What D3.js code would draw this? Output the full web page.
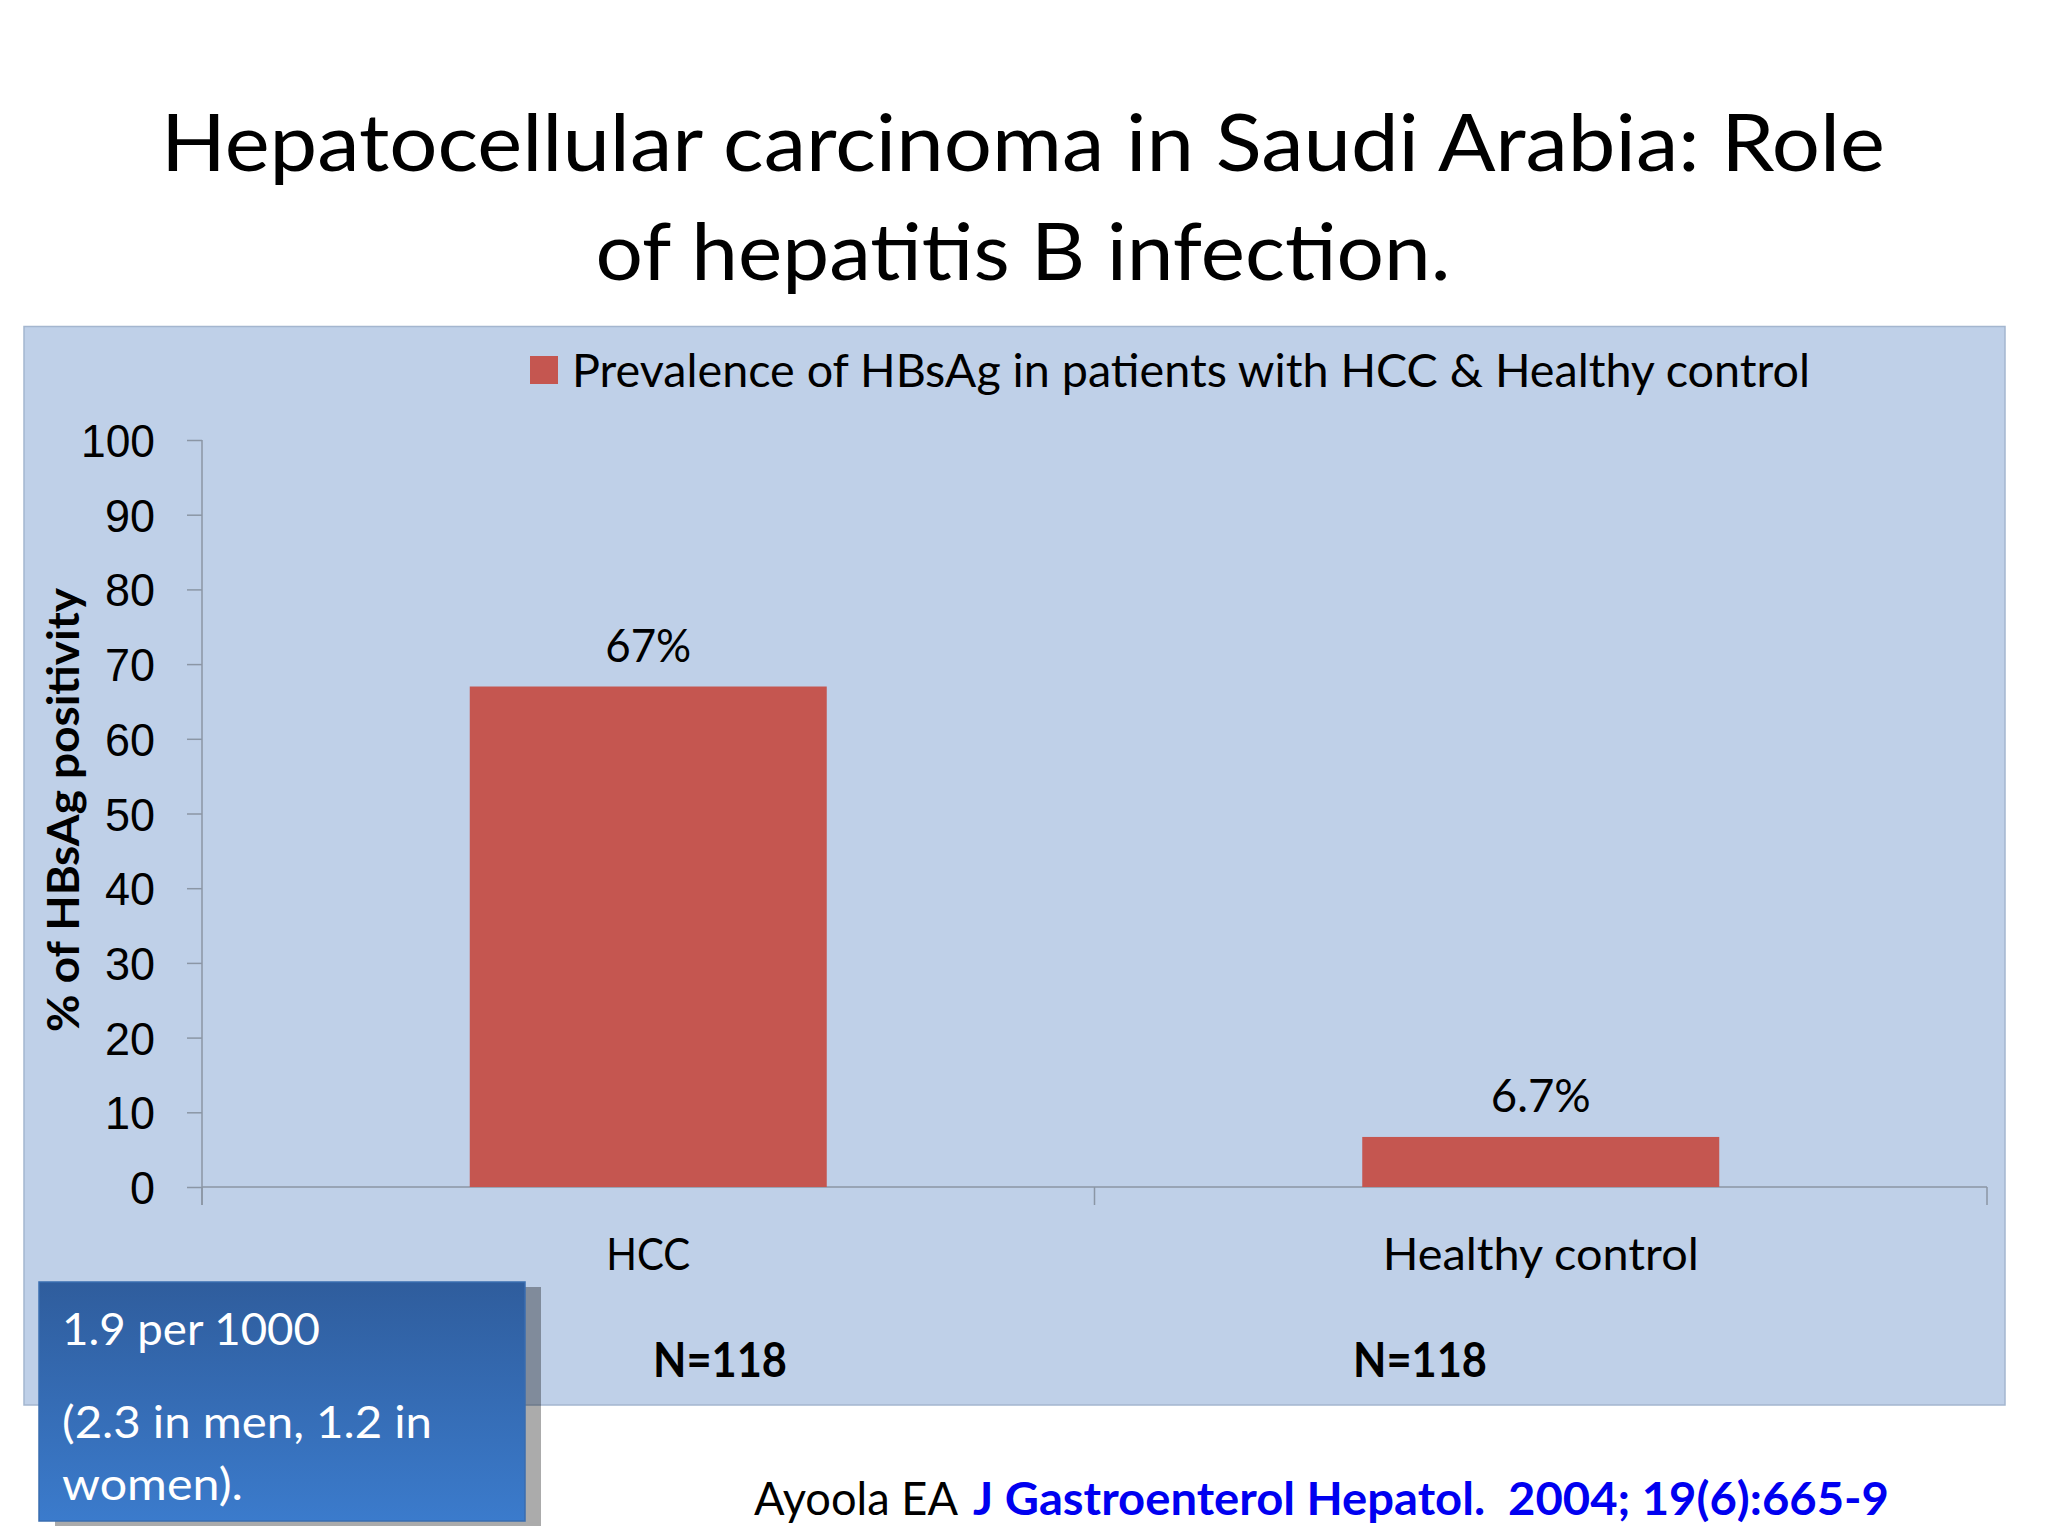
<!DOCTYPE html>
<html>
<head>
<meta charset="utf-8">
<script src="https://cdn.jsdelivr.net/npm/d3@7"></script>
<style>
  body { margin: 0; background: #ffffff; }
  svg { display: block; font-family: Lato, "Open Sans", sans-serif; }
</style>
</head>
<body>
<div id="chart"></div>
<script>
// --- Data ---
const categories = ["HCC", "Healthy control"];
const prevalence = [67, 6.7];
const valueLabels = ["67%", "6.7%"];
const sampleSizes = ["N=118", "N=118"];
const yTicks = [0, 10, 20, 30, 40, 50, 60, 70, 80, 90, 100];
const titleLines = ["Hepatocellular carcinoma in Saudi Arabia: Role", "of hepatitis B infection."];
const legendLabel = "Prevalence of HBsAg in patients with HCC & Healthy control";
const yAxisTitle = "% of HBsAg positivity";
const noteLines = ["1.9 per 1000", "(2.3 in men, 1.2 in", "women)."];
const citeAuthor = "Ayoola EA";
const citeJournal = "J Gastroenterol Hepatol.  2004; 19(6):665-9";

// --- Colors ---
const colors = {
  panel: "#bfd0e8",
  panelStroke: "#a4b6cf",
  bar: "#c55650",
  axis: "#8b96a5",
  text: "#000000",
  link: "#0000f0"
};

const W = 2048, H = 1536;

const svg = d3.select("#chart")
  .append("svg")
  .attr("width", W)
  .attr("height", H)
  .attr("viewBox", `0 0 ${W} ${H}`);

// helper: squeeze text to the width seen in the slide (font is narrower there)
function fitText(sel, width) {
  sel.attr("textLength", width).attr("lengthAdjust", "spacingAndGlyphs");
  return sel;
}

// --- Title ---
const titleBase = [171, 280];
const titleWidth = [1724, 855];
titleLines.forEach((t, i) => {
  fitText(svg.append("text")
    .attr("x", 1023)
    .attr("y", titleBase[i])
    .attr("text-anchor", "middle")
    .style("font-size", "80px")
    .attr("fill", colors.text)
    .text(t), titleWidth[i]);
});

// --- Chart panel ---
svg.append("rect")
  .attr("x", 24).attr("y", 326.5)
  .attr("width", 1981).attr("height", 1078.5)
  .attr("fill", colors.panel)
  .attr("stroke", colors.panelStroke)
  .attr("stroke-width", 1.5);

// --- Scales ---
const y = d3.scaleLinear().domain([0, 100]).range([1187, 440]);
const x = d3.scaleBand()
  .domain(categories)
  .range([202, 1987])
  .paddingInner(0.6)
  .paddingOuter(0.3);

// --- Legend ---
svg.append("rect")
  .attr("x", 530).attr("y", 356)
  .attr("width", 28).attr("height", 28)
  .attr("fill", colors.bar);
fitText(svg.append("text")
  .attr("x", 572).attr("y", 387)
  .style("font-size", "47px")
  .attr("fill", colors.text)
  .text(legendLabel), 1238);

// --- Y axis ---
const yAxis = svg.append("g")
  .attr("transform", "translate(202,0)")
  .call(d3.axisLeft(y).tickValues(yTicks).tickSize(15).tickSizeOuter(0).tickPadding(32));
yAxis.select(".domain").attr("stroke", colors.axis).attr("stroke-width", 1.5)
  .attr("d", `M0,${y(100)}V1205`);
yAxis.selectAll(".tick line").attr("stroke", colors.axis).attr("stroke-width", 1.5);
yAxis.selectAll(".tick text")
  .attr("font-family", null)
  .attr("font-size", null)
  .style("font-size", "46px")
  .attr("fill", colors.text)
  .attr("dy", "0.36em")
  .attr("textLength", d => d === 100 ? 74 : d === 0 ? 25 : 50)
  .attr("lengthAdjust", "spacingAndGlyphs");

// y axis title
fitText(svg.append("text")
  .attr("transform", "translate(79,810) rotate(-90)")
  .attr("text-anchor", "middle")
  .style("font-size", "43px")
  .style("font-weight", "700")
  .attr("fill", colors.text)
  .text(yAxisTitle), 444);

// --- X axis (category boundaries) ---
const step = x.step();
const bounds = categories.map(c => x(c) - step * x.paddingInner() / 2);
bounds.push(x.range()[1]);
const xAxis = svg.append("g");
xAxis.append("line")
  .attr("x1", x.range()[0]).attr("x2", x.range()[1])
  .attr("y1", y(0)).attr("y2", y(0))
  .attr("stroke", colors.axis).attr("stroke-width", 1.5);
xAxis.selectAll("line.tick")
  .data(bounds)
  .join("line")
  .attr("class", "tick")
  .attr("x1", d => d).attr("x2", d => d)
  .attr("y1", y(0)).attr("y2", y(0) + 18)
  .attr("stroke", colors.axis).attr("stroke-width", 1.5);

// --- Bars ---
svg.selectAll("rect.bar")
  .data(prevalence)
  .join("rect")
  .attr("class", "bar")
  .attr("x", (d, i) => x(categories[i]))
  .attr("width", x.bandwidth())
  .attr("y", d => y(d))
  .attr("height", d => y(0) - y(d))
  .attr("fill", colors.bar);

// value labels
const valueWidth = [86, 100];
svg.selectAll("text.value")
  .data(prevalence)
  .join("text")
  .attr("class", "value")
  .attr("x", (d, i) => x(categories[i]) + x.bandwidth() / 2)
  .attr("y", d => y(d) - 25)
  .attr("text-anchor", "middle")
  .style("font-size", "47px")
  .attr("fill", colors.text)
  .attr("textLength", (d, i) => valueWidth[i])
  .attr("lengthAdjust", "spacingAndGlyphs")
  .text((d, i) => valueLabels[i]);

// category labels
const catWidth = [84, 316];
svg.selectAll("text.cat")
  .data(categories)
  .join("text")
  .attr("class", "cat")
  .attr("x", d => x(d) + x.bandwidth() / 2)
  .attr("y", 1270)
  .attr("text-anchor", "middle")
  .style("font-size", "45px")
  .attr("fill", colors.text)
  .attr("textLength", (d, i) => catWidth[i])
  .attr("lengthAdjust", "spacingAndGlyphs")
  .text(d => d);

// sample sizes
const nCenters = [720, 1420];
svg.selectAll("text.n")
  .data(sampleSizes)
  .join("text")
  .attr("class", "n")
  .attr("x", (d, i) => nCenters[i])
  .attr("y", 1377)
  .attr("text-anchor", "middle")
  .style("font-size", "47px")
  .style("font-weight", "700")
  .attr("fill", colors.text)
  .attr("textLength", 134)
  .attr("lengthAdjust", "spacingAndGlyphs")
  .text(d => d);

// --- Note box (bottom left) ---
const defs = svg.append("defs");
const grad = defs.append("linearGradient")
  .attr("id", "boxGrad")
  .attr("x1", 0).attr("y1", 0).attr("x2", 0).attr("y2", 1);
grad.append("stop").attr("offset", "0%").attr("stop-color", "#2f5d9d");
grad.append("stop").attr("offset", "100%").attr("stop-color", "#3b7bcc");

svg.append("rect")
  .attr("x", 55).attr("y", 1287)
  .attr("width", 486).attr("height", 239)
  .attr("fill", "rgba(0,0,0,0.33)");
svg.append("rect")
  .attr("x", 39).attr("y", 1282)
  .attr("width", 486).attr("height", 239)
  .attr("fill", "url(#boxGrad)")
  .attr("stroke", "#3a6db0")
  .attr("stroke-width", 1.5);

const noteBase = [1345, 1438, 1500];
const noteWidth = [258, 370, 181];
noteLines.forEach((t, i) => {
  fitText(svg.append("text")
    .attr("x", 62).attr("y", noteBase[i])
    .style("font-size", "45px")
    .attr("fill", "#ffffff")
    .text(t), noteWidth[i]);
});

// --- Citation ---
fitText(svg.append("text")
  .attr("x", 754).attr("y", 1515)
  .style("font-size", "46px")
  .attr("fill", colors.text)
  .text(citeAuthor), 204);
fitText(svg.append("text")
  .attr("x", 973).attr("y", 1515)
  .style("font-size", "46px")
  .style("font-weight", "700")
  .attr("fill", colors.link)
  .style("white-space", "pre")
  .text(citeJournal), 916);
</script>
</body>
</html>
